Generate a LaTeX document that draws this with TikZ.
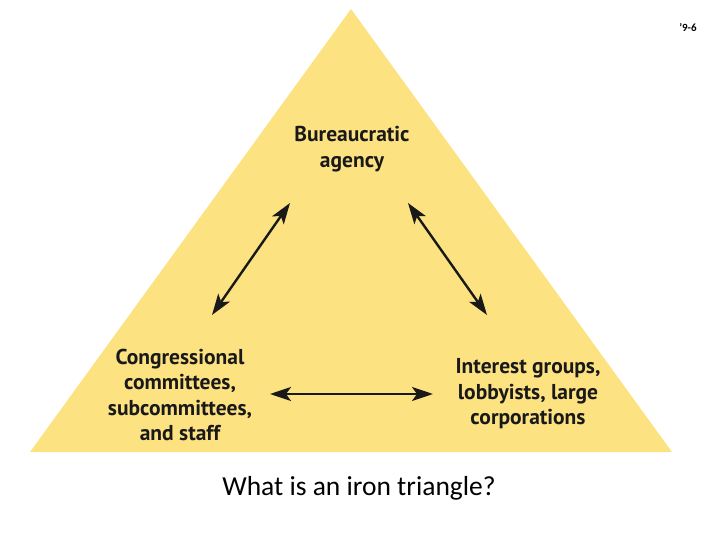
\documentclass[tikz,border=0pt]{standalone}
\usepackage{fontspec}
\setmainfont{Carlito}
\newfontfamily\labelfont{PT Sans}
\usetikzlibrary{arrows.meta}
\definecolor{ironyellow}{RGB}{253,226,130}
\tikzset{
  corner/.style={align=center, font=\labelfont\bfseries\fontsize{21.5}{25.5}\selectfont, text=black!90},
  link/.style={{Stealth[length=21pt,width=14pt,inset=5pt]}-{Stealth[length=21pt,width=14pt,inset=5pt]}, line width=2.4pt, black!90}
}

\begin{document}
\begin{tikzpicture}[x=1pt,y=-1pt]
\useasboundingbox (0,0) rectangle (720,540);
\fill[ironyellow] (351,9) -- (672,452) -- (30,452) -- cycle;
\node (num) at (688,28) {\bfseries\fontsize{11}{12}\selectfont '9-6};
\node[corner] (agency) at (352,149) {Bureaucratic\\agency};
\node[corner] (congress) at (180,395) {Congressional\\committees,\\subcommittees,\\and staff};
\node[corner] (groups) at (528,394) {Interest groups,\\lobbyists, large\\corporations};
\node (title) at (359,488) {\fontsize{27.5}{30}\selectfont What is an iron triangle?};
%arrow ends
\coordinate (a1) at (290,203);
\coordinate (c1) at (212,315);
\coordinate (a2) at (408,203);
\coordinate (g1) at (487,315);
\coordinate (c2) at (270,394);
\coordinate (g2) at (433,394);
\draw[link] (a1) -- (c1);
\draw[link] (a2) -- (g1);
\draw[link] (c2) -- (g2);
\end{tikzpicture}
\end{document}
